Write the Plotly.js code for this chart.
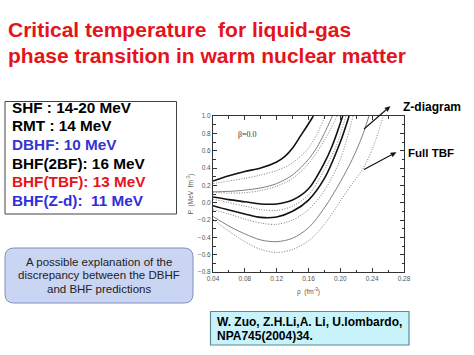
<!DOCTYPE html>
<html>
<head>
<meta charset="utf-8">
<script src="https://cdn.plot.ly/plotly-3.0.1.min.js"></script>
<style>html,body{margin:0;padding:0;background:#fff;}#chart{width:474px;height:355px;}</style>
</head>
<body>
<div id="chart"></div>
<script>
// ---- Data (rho in fm^-3, P in MeV fm^-3) ----
const xA = [0.04,0.06,0.08,0.10,0.12,0.13,0.14,0.15,0.16,0.166];
const yA = [0.25,0.31,0.36,0.40,0.47,0.53,0.63,0.77,0.91,1.0];
const xB = [0.04,0.06,0.08,0.10,0.12,0.14,0.16,0.17,0.181];
const yB = [0.22,0.25,0.28,0.32,0.37,0.46,0.63,0.78,1.0];
const xC = [0.04,0.06,0.08,0.10,0.12,0.14,0.16,0.17,0.18,0.19];
const yC = [0.125,0.13,0.145,0.17,0.22,0.32,0.50,0.63,0.80,1.0];
const xD = [0.04,0.06,0.08,0.10,0.12,0.14,0.16,0.18,0.196];
const yD = [0.12,0.11,0.115,0.14,0.19,0.28,0.45,0.72,1.0];
const xE = [0.04,0.06,0.08,0.10,0.12,0.14,0.16,0.18,0.19,0.203];
const yE = [0.065,0.035,0.01,-0.015,-0.015,0.03,0.16,0.46,0.66,1.0];
const xF = [0.04,0.06,0.08,0.10,0.12,0.14,0.16,0.18,0.195,0.207];
const yF = [0.04,0.0,-0.04,-0.08,-0.09,-0.04,0.09,0.38,0.66,1.0];
const xG = [0.04,0.06,0.08,0.10,0.12,0.14,0.16,0.18,0.20,0.211];
const yG = [-0.035,-0.085,-0.13,-0.17,-0.165,-0.10,0.03,0.28,0.70,1.0];
const xH = [0.04,0.06,0.08,0.10,0.12,0.14,0.16,0.18,0.20,0.216];
const yH = [-0.08,-0.13,-0.19,-0.235,-0.25,-0.20,-0.08,0.14,0.50,1.0];
const xI = [0.04,0.06,0.08,0.10,0.12,0.14,0.16,0.18,0.20,0.215,0.228,0.236];
const yI = [-0.16,-0.27,-0.36,-0.43,-0.45,-0.41,-0.29,-0.06,0.24,0.50,0.78,1.0];
const xJ = [0.04,0.06,0.08,0.10,0.12,0.14,0.16,0.18,0.20,0.215,0.229,0.242,0.254];
const yJ = [-0.19,-0.33,-0.45,-0.54,-0.575,-0.54,-0.44,-0.25,0.02,0.22,0.40,0.66,1.0];

const titleLines = ["Critical temperature  for liquid-gas", "phase transition in warm nuclear matter"];
const listLabels = ["SHF : 14-20 MeV", "RMT : 14 MeV", "DBHF: 10 MeV", "BHF(2BF): 16 MeV", "BHF(TBF): 13 MeV", "BHF(Z-d):  11 MeV"];
const listColors = ["#000000", "#000000", "#3535d0", "#000000", "#e5141c", "#2f2fd8"];
const noteLines = ["A possible explanation of the", "discrepancy between the DBHF", "and BHF predictions"];
const citeLines = ["W. Zuo, Z.H.Li,A. Li, U.lombardo,", "NPA745(2004)34."];

// ---- helpers (page pixels -> paper) ----
const W = 474, H = 355;
const px = v => v / W;
const py = v => 1 - v / H;

const thick = {color: '#111', width: 1.6};
const thin = {color: '#707070', width: 0.9};
const dotted = {color: '#7a7a7a', width: 1, dash: '1px,1.6px'};

const series = [
  [xA, yA, thick], [xB, yB, dotted], [xC, yC, thin], [xD, yD, dotted],
  [xE, yE, thick], [xF, yF, dotted], [xG, yG, thick], [xH, yH, dotted],
  [xI, yI, thin], [xJ, yJ, dotted]
];
const traces = series.map(s => ({
  x: s[0], y: s[1], type: 'scatter', mode: 'lines',
  line: Object.assign({shape: 'spline', smoothing: 0.9}, s[2]),
  hoverinfo: 'skip', showlegend: false
}));

const sans = 'Liberation Sans, Arial, sans-serif';
const tickFont = {family: 'Liberation Sans Narrow, Arial Narrow, Liberation Sans, Arial', size: 6.5, color: '#555'};

const annotations = [];
titleLines.forEach((t, i) => annotations.push({
  xref: 'paper', yref: 'paper', x: px(6), y: py([29, 55][i]), xanchor: 'left', yanchor: 'middle',
  text: '<b>' + t + '</b>', showarrow: false, font: {family: sans, size: 21, color: '#e3141b'}
}));
const listY = [107.7, 126, 144.3, 163.3, 181.7, 200];
listLabels.forEach((t, i) => annotations.push({
  xref: 'paper', yref: 'paper', x: px(9.5), y: py(listY[i]), xanchor: 'left', yanchor: 'middle',
  text: '<b>' + t + '</b>', showarrow: false, font: {family: sans, size: 15.3, color: listColors[i]}
}));
const noteY = [261.7, 275.3, 289.3];
noteLines.forEach((t, i) => annotations.push({
  xref: 'paper', yref: 'paper', x: px(99), y: py(noteY[i]), xanchor: 'center', yanchor: 'middle',
  text: t, showarrow: false, font: {family: sans, size: 11.5, color: '#222'}
}));
const citeY = [321.7, 335.7];
citeLines.forEach((t, i) => annotations.push({
  xref: 'paper', yref: 'paper', x: px(215), y: py(citeY[i]), xanchor: 'left', yanchor: 'middle',
  text: '<b>' + t + '</b>', showarrow: false, font: {family: sans, size: 12, color: '#000'}
}));
// in-plot label
annotations.push({xref: 'paper', yref: 'paper', x: px(236), y: py(134.5), xanchor: 'left', yanchor: 'middle',
  text: 'β=0.0', showarrow: false, font: {family: 'Liberation Serif, Times New Roman, serif', size: 8, color: '#333'}});
// side labels
annotations.push({xref: 'paper', yref: 'paper', x: px(400.5), y: py(106.5), xanchor: 'left', yanchor: 'middle',
  text: '<b>Z-diagram</b>', showarrow: false, font: {family: sans, size: 12, color: '#000'}});
annotations.push({xref: 'paper', yref: 'paper', x: px(405.5), y: py(152.5), xanchor: 'left', yanchor: 'middle',
  text: '<b>Full TBF</b>', showarrow: false, font: {family: sans, size: 11.5, color: '#000'}});

// rounded box path
function roundRect(x0, y0, x1, y1, r) {
  const rx = r / W, ry = r / H;
  const X0 = px(x0), X1 = px(x1), Y0 = py(y0), Y1 = py(y1);
  return `M ${X0 + rx} ${Y0} L ${X1 - rx} ${Y0} Q ${X1} ${Y0} ${X1} ${Y0 - ry} L ${X1} ${Y1 + ry} Q ${X1} ${Y1} ${X1 - rx} ${Y1} L ${X0 + rx} ${Y1} Q ${X0} ${Y1} ${X0} ${Y1 + ry} L ${X0} ${Y0 - ry} Q ${X0} ${Y0} ${X0 + rx} ${Y0} Z`;
}
// arrow = line + triangular head (page pixel coords)
function arrow(tx, ty, hx, hy) {
  const dx = hx - tx, dy = hy - ty, L = Math.hypot(dx, dy);
  const ux = dx / L, uy = dy / L, len = 5, hw = 2.2;
  const bx = hx - ux * len, by = hy - uy * len;
  const p1 = [bx - uy * hw, by + ux * hw], p2 = [bx + uy * hw, by - ux * hw];
  return [
    {type: 'line', xref: 'paper', yref: 'paper', x0: px(tx), y0: py(ty), x1: px(bx), y1: py(by),
     line: {color: '#111', width: 1.1}},
    {type: 'path', xref: 'paper', yref: 'paper',
     path: `M ${px(hx)} ${py(hy)} L ${px(p1[0])} ${py(p1[1])} L ${px(p2[0])} ${py(p2[1])} Z`,
     line: {color: '#111', width: 0.5}, fillcolor: '#111'}
  ];
}

const shapes = [
  {type: 'rect', xref: 'paper', yref: 'paper', x0: px(5), x1: px(176.5), y0: py(101.5), y1: py(214),
   line: {color: '#444', width: 1}, fillcolor: '#fff', layer: 'below'},
  {type: 'path', xref: 'paper', yref: 'paper', path: roundRect(5, 248, 193, 303, 9),
   line: {color: '#8090c0', width: 1}, fillcolor: '#c9d5f3', layer: 'below'},
  {type: 'rect', xref: 'paper', yref: 'paper', x0: px(210.5), x1: px(409), y0: py(311.5), y1: py(345),
   line: {color: '#5e8a90', width: 1.2}, fillcolor: '#c8f3fa', layer: 'below'}
].concat(arrow(364, 129, 390, 106.5), arrow(364, 169.5, 396, 152.5));

const layout = {
  width: W, height: H,
  margin: {l: 0, r: 0, t: 0, b: 0, pad: 0},
  paper_bgcolor: '#fff', plot_bgcolor: '#fff',
  showlegend: false,
  xaxis: {
    domain: [px(213), px(404)], range: [0.04, 0.28], autorange: false,
    tick0: 0.04, dtick: 0.04, tickformat: '.2f', ticks: 'inside', ticklen: 4, tickcolor: '#333',
    minor: {dtick: 0.02, ticks: 'inside', ticklen: 2.5, tickcolor: '#333'},
    showline: true, linecolor: '#333', linewidth: 1, mirror: 'allticks',
    showgrid: false, zeroline: false, tickfont: tickFont, automargin: false,
    title: {text: 'ρ  (fm<sup>-3</sup>)', font: {family: sans, size: 6.5, color: '#555'}, standoff: 8}
  },
  yaxis: {
    domain: [py(272), py(116)], range: [-0.8, 1.0], autorange: false,
    tick0: -0.8, dtick: 0.2, tickformat: '.1f', ticks: 'inside', ticklen: 4, tickcolor: '#333',
    minor: {dtick: 0.1, ticks: 'inside', ticklen: 2.5, tickcolor: '#333'},
    showline: true, linecolor: '#333', linewidth: 1, mirror: 'allticks',
    showgrid: false, zeroline: false, tickfont: tickFont, automargin: false,
    title: {text: 'P  (MeV  fm<sup>-3</sup>)', font: {family: sans, size: 6.5, color: '#555'}, standoff: 3}
  },
  annotations: annotations,
  shapes: shapes
};

Plotly.newPlot('chart', traces, layout, {staticPlot: true, displayModeBar: false});
</script>
</body>
</html>
